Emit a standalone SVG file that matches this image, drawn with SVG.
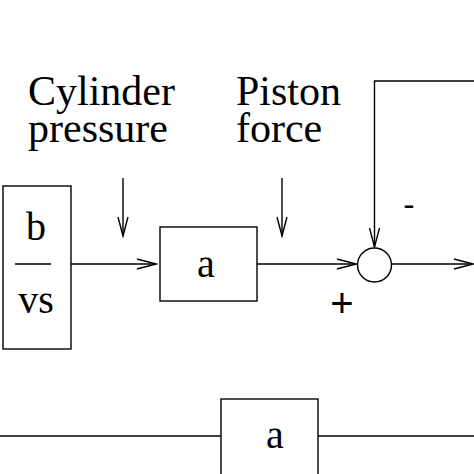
<svg xmlns="http://www.w3.org/2000/svg" width="474" height="474" viewBox="0 0 474 474">
<style>
.box{fill:#fff;stroke:#000;stroke-width:1.4}
.ln{fill:none;stroke:#000;stroke-width:1.4}
.lbl{font-family:"Liberation Serif","Times New Roman",serif;font-size:42px;fill:#000}
.sym{font-family:"Liberation Serif","Times New Roman",serif;font-size:40px;fill:#000}
.sgn{font-family:"Liberation Sans",Arial,sans-serif;fill:#000}
</style>
<defs>
<marker id="v" markerUnits="userSpaceOnUse" markerWidth="22" markerHeight="14" viewBox="-20 -7 22 14" refX="0" refY="0" orient="auto">
<path d="M-19,-5 L0,0 L-19,5" fill="none" stroke="#000" stroke-width="1.4"/>
</marker>
</defs>
<rect width="474" height="474" fill="#fff"/>
<g id="labels">
<text class="lbl" x="28" y="105">Cylinder</text>
<text class="lbl" x="28" y="142">pressure</text>
<text class="lbl" x="236" y="105">Piston</text>
<text class="lbl" x="236" y="142">force</text>
<text class="sgn" x="409" y="216" font-size="34" text-anchor="middle">-</text>
<text class="sgn" x="342" y="317" font-size="40" text-anchor="middle">+</text>
</g>
<g id="connectors">
<line class="ln" x1="71" y1="264" x2="156" y2="264" marker-end="url(#v)"/>
<line class="ln" x1="123" y1="178" x2="123" y2="236" marker-end="url(#v)"/>
<line class="ln" x1="282" y1="178" x2="282" y2="236" marker-end="url(#v)"/>
<line class="ln" x1="257" y1="264" x2="356" y2="264" marker-end="url(#v)"/>
<polyline class="ln" points="474,81 374.5,81 374.5,247" marker-end="url(#v)"/>
<line class="ln" x1="392" y1="264" x2="473" y2="264" marker-end="url(#v)"/>
<line class="ln" x1="0" y1="436" x2="221" y2="436"/>
<line class="ln" x1="318" y1="436" x2="474" y2="436"/>
</g>
<g id="node-bvs">
<rect class="box" x="3" y="186" width="68" height="163"/>
<text class="sym" x="36" y="240" text-anchor="middle">b</text>
<line class="ln" x1="15" y1="264" x2="51" y2="264"/>
<text class="sym" x="36" y="313" text-anchor="middle">vs</text>
</g>
<g id="node-a">
<rect class="box" x="160" y="227" width="97" height="74"/>
<text class="sym" x="206" y="277" text-anchor="middle">a</text>
</g>
<g id="node-sum">
<circle class="box" cx="374.5" cy="265" r="17"/>
</g>
<g id="node-a2">
<rect class="box" x="221" y="399" width="97" height="80"/>
<text class="sym" x="275" y="448" text-anchor="middle">a</text>
</g>
</svg>
